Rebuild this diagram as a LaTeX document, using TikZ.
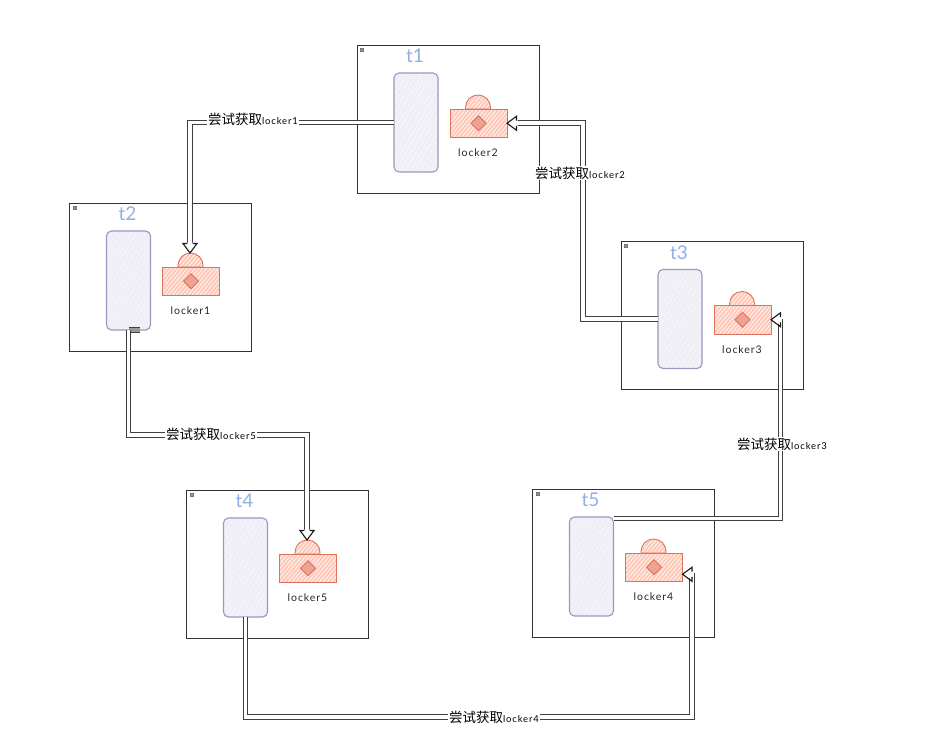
\documentclass[tikz,border=0pt]{standalone}
\usepackage{fontspec}
\setmainfont{Lato}
\newfontfamily\cjkf{Noto Sans CJK SC}
\newfontfamily\spacedf[LetterSpace=9]{Lato}
\usetikzlibrary{shapes.geometric,arrows.meta,patterns.meta,calc}
\definecolor{barfill}{HTML}{EFEEF7}
\definecolor{barline}{HTML}{9C97BD}
\definecolor{lockfill}{HTML}{FFC9BA}
\definecolor{lockline}{HTML}{D9725E}
\definecolor{tblue}{HTML}{8FB0E6}
\tikzset{
  framebox/.style={draw=black!80,line width=.9pt,minimum width=182pt,minimum height=148pt,inner sep=0,outer sep=0,anchor=north west},
  barbox/.style={draw=barline,line width=1.1pt,rounded corners=5pt,minimum width=44pt,minimum height=99pt,inner sep=0,outer sep=0,anchor=north west,
    preaction={fill=barfill},pattern={Lines[angle=60,distance=4pt,line width=.6pt]},pattern color=white},
  lockbody/.style={draw=lockline,line width=.9pt,minimum width=57pt,minimum height=28.5pt,inner sep=0,outer sep=0,anchor=north west,
    preaction={fill=lockfill},pattern={Lines[angle=50,distance=3pt,line width=.6pt]},pattern color=white},
  domeshape/.style={draw=lockline,line width=.9pt,preaction={fill=lockfill},pattern={Lines[angle=50,distance=3pt,line width=.6pt]},pattern color=white},
  keyhole/.style={diamond,draw=lockline,line width=.8pt,fill=lockline!45!lockfill,minimum size=15pt,inner sep=0,outer sep=0},
  tlabel/.style={text=tblue,font=\fontsize{19}{19}\selectfont,inner sep=0},
  locklabel/.style={text=black!85,font=\spacedf\fontsize{10.5}{10.5}\selectfont,inner sep=0},
  marksq/.style={draw=black!55,fill=black!40,line width=.4pt,minimum size=3pt,inner sep=0,anchor=north west},
  link/.style={line width=.9pt,draw=black!75,double=white,double distance=3.8pt},
  tipbox/.style={draw=black!90,line width=1.1pt,line join=miter},
  linklabel/.style={fill=white,inner sep=.6pt,font=\fontsize{13.5}{13.5}\selectfont},
}
\newcommand{\thr}[2]{{\cjkf #1}{\spacedf\fontsize{9.5}{9.5}\selectfont #2}}
% name, x, y, t-label, lock-label
\newcommand{\tgroup}[5]{%
  \node[framebox] (#1frame) at (#2,#3) {};
  \node[marksq] (#1mark) at ($(#2,#3)+(3,2.5)$) {};
  \node[tlabel] (#1t) at ($(#2,#3)+(58,11)$) {#4};
  \node[barbox] (#1bar) at ($(#2,#3)+(37,28)$) {};
  \draw[domeshape] ($(#2,#3)+(108.5,64)$) -- ++(0,-1.5) arc[start angle=180,end angle=360,radius=12.5] -- ++(0,1.5) -- cycle;
  \node[lockbody] (#1body) at ($(#2,#3)+(93,64)$) {};
  \coordinate (#1dome) at ($(#2,#3)+(120.5,50)$);
  \node[keyhole] (#1key) at (#1body.center) {};
  \node[locklabel] (#1label) at ($(#2,#3)+(121,108)$) {#5};
}
% open tip at a named point; second argument is the rotation
\newcommand{\opentip}[2]{%
  \fill[white,shift={(#1)},rotate=#2] (-1.5,0) -- (-10.5,-6) -- (-10.5,6) -- cycle;
  \draw[tipbox,shift={(#1)},rotate=#2] (-9.5,-2.6) -- (-9.5,-7) -- (0,0) -- (-9.5,7) -- (-9.5,2.6);
}
\begin{document}
\begin{tikzpicture}[x=1pt,y=-1pt]
\useasboundingbox (0,0) rectangle (939,748);
\fill[white] (0,0) rectangle (939,748);

\tgroup{a}{357}{45}{t1}{locker2}
\tgroup{b}{69.5}{203}{t2}{locker1}
\tgroup{c}{621}{241.5}{t3}{locker3}
\tgroup{d}{186.5}{490}{t4}{locker5}
\tgroup{e}{532.5}{489}{t5}{locker4}

% t1 -> locker1
\draw[link] (abar.west) -| ($(bdome)+(0,-9)$);
\opentip{bdome}{-90}
\node[linklabel] (l1) at (253,119) {\thr{尝试获取}{locker1}};

% t3 -> locker2
\draw[link] (cbar.west) -| ($(abody.east)+(76,0)$) -- ($(abody.east)+(9,0)$);
\opentip{abody.east}{180}
\node[linklabel] (l2) at (580,173) {\thr{尝试获取}{locker2}};

% t5 -> locker3
\coordinate (ctip) at (cbody.east);
\draw[link] ($(ebar.north east)+(0,1.5)$) -| ($(ctip)+(9.5,-1)$);
\opentip{ctip}{180}
\node[linklabel] (l3) at (782,444) {\thr{尝试获取}{locker3}};

% t2 -> locker5
\draw[link,double=black!40] ($(bbar.south)+(11,0)$) -- (bbar.south);
\draw[link] (bbar.south) |- ($(ddome)+(0,-105)$) -- ($(ddome)+(0,-9)$);
\opentip{ddome}{-90}
\node[linklabel] (l5) at (211,434) {\thr{尝试获取}{locker5}};

% t4 -> locker4
\coordinate (etip) at ($(ebody.east)+(0,7)$);
\draw[link] (dbar.south) |- ($(etip)+(9.5,143)$) -- ($(etip)+(9.5,-1)$);
\opentip{etip}{180}
\node[linklabel] (l4) at (494,717) {\thr{尝试获取}{locker4}};
\end{tikzpicture}
\end{document}
